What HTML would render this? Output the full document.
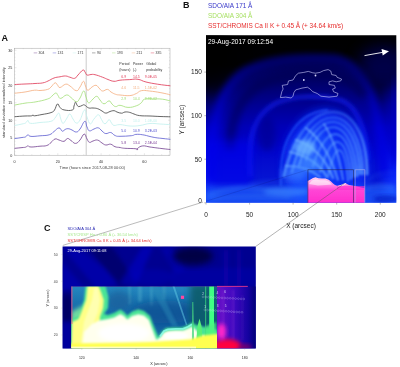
<!DOCTYPE html>
<html><head><meta charset="utf-8"><title>Figure</title>
<style>
html,body{margin:0;padding:0;background:#fff;}
body{width:400px;height:367px;overflow:hidden;font-family:"Liberation Sans",sans-serif;}
svg{display:block;}
text{font-family:"Liberation Sans",sans-serif;}
</style></head><body>
<svg width="400" height="367" viewBox="0 0 400 367">
<defs>
<filter id="b05" x="-20%" y="-20%" width="140%" height="140%"><feGaussianBlur stdDeviation="0.5"/></filter>
<filter id="b1" x="-20%" y="-20%" width="140%" height="140%"><feGaussianBlur stdDeviation="1"/></filter>
<filter id="b2" x="-30%" y="-30%" width="160%" height="160%"><feGaussianBlur stdDeviation="2"/></filter>
<filter id="b3" x="-30%" y="-30%" width="160%" height="160%"><feGaussianBlur stdDeviation="3"/></filter>
<filter id="b5" x="-40%" y="-40%" width="180%" height="180%"><feGaussianBlur stdDeviation="5"/></filter>
<filter id="b8" x="-50%" y="-50%" width="200%" height="200%"><feGaussianBlur stdDeviation="8"/></filter>
<clipPath id="clipB"><rect x="206" y="35.3" width="190.3" height="167.5"/></clipPath>
<clipPath id="clipC"><rect x="62.6" y="246.6" width="193.2" height="102"/></clipPath>
<clipPath id="clipCi"><rect x="71.3" y="286.4" width="145.8" height="62.2"/></clipPath>
<clipPath id="clipCr"><rect x="217.1" y="286.4" width="38.7" height="62.2"/></clipPath>
<linearGradient id="gB" x1="0" y1="35" x2="0" y2="203" gradientUnits="userSpaceOnUse">
 <stop offset="0" stop-color="#000000"/>
 <stop offset="0.18" stop-color="#000004"/>
 <stop offset="0.30" stop-color="#000030"/>
 <stop offset="0.42" stop-color="#000078"/>
 <stop offset="0.55" stop-color="#0000c0"/>
 <stop offset="0.7" stop-color="#040ce8"/>
 <stop offset="0.85" stop-color="#0c28f6"/>
 <stop offset="1" stop-color="#1848ff"/>
</linearGradient>
<linearGradient id="gCi" x1="0" y1="286" x2="0" y2="349" gradientUnits="userSpaceOnUse">
 <stop offset="0" stop-color="#2488c0"/>
 <stop offset="0.25" stop-color="#1a74b0"/>
 <stop offset="0.6" stop-color="#125ca0"/>
 <stop offset="1" stop-color="#1c80a8"/>
</linearGradient>
<linearGradient id="gCr" x1="217" y1="0" x2="256" y2="0" gradientUnits="userSpaceOnUse">
 <stop offset="0" stop-color="#6a10c8"/>
 <stop offset="0.45" stop-color="#3c08c0"/>
 <stop offset="0.8" stop-color="#1402a0"/>
 <stop offset="1" stop-color="#000078"/>
</linearGradient>
</defs>
<rect width="400" height="367" fill="#fff"/>

<g id="panelA">
<text x="1.5" y="41" font-size="9" font-weight="bold" fill="#111">A</text>
<rect x="14.5" y="48.2" width="155.5" height="107" fill="none" stroke="#9a9a9a" stroke-width="0.45"/>
<line x1="86.2" y1="48.2" x2="86.2" y2="155.2" stroke="#a8a8a8" stroke-width="0.6"/>
<line x1="14.5" y1="155.20" x2="16.5" y2="155.20" stroke="#b0b0b0" stroke-width="0.3"/>
<line x1="170" y1="155.20" x2="168.0" y2="155.20" stroke="#b0b0b0" stroke-width="0.3"/>
<line x1="14.5" y1="151.70" x2="15.5" y2="151.70" stroke="#b0b0b0" stroke-width="0.3"/>
<line x1="170" y1="151.70" x2="169.0" y2="151.70" stroke="#b0b0b0" stroke-width="0.3"/>
<line x1="14.5" y1="148.20" x2="15.5" y2="148.20" stroke="#b0b0b0" stroke-width="0.3"/>
<line x1="170" y1="148.20" x2="169.0" y2="148.20" stroke="#b0b0b0" stroke-width="0.3"/>
<line x1="14.5" y1="144.70" x2="15.5" y2="144.70" stroke="#b0b0b0" stroke-width="0.3"/>
<line x1="170" y1="144.70" x2="169.0" y2="144.70" stroke="#b0b0b0" stroke-width="0.3"/>
<line x1="14.5" y1="141.20" x2="15.5" y2="141.20" stroke="#b0b0b0" stroke-width="0.3"/>
<line x1="170" y1="141.20" x2="169.0" y2="141.20" stroke="#b0b0b0" stroke-width="0.3"/>
<line x1="14.5" y1="137.70" x2="16.5" y2="137.70" stroke="#b0b0b0" stroke-width="0.3"/>
<line x1="170" y1="137.70" x2="168.0" y2="137.70" stroke="#b0b0b0" stroke-width="0.3"/>
<line x1="14.5" y1="134.20" x2="15.5" y2="134.20" stroke="#b0b0b0" stroke-width="0.3"/>
<line x1="170" y1="134.20" x2="169.0" y2="134.20" stroke="#b0b0b0" stroke-width="0.3"/>
<line x1="14.5" y1="130.70" x2="15.5" y2="130.70" stroke="#b0b0b0" stroke-width="0.3"/>
<line x1="170" y1="130.70" x2="169.0" y2="130.70" stroke="#b0b0b0" stroke-width="0.3"/>
<line x1="14.5" y1="127.20" x2="15.5" y2="127.20" stroke="#b0b0b0" stroke-width="0.3"/>
<line x1="170" y1="127.20" x2="169.0" y2="127.20" stroke="#b0b0b0" stroke-width="0.3"/>
<line x1="14.5" y1="123.70" x2="15.5" y2="123.70" stroke="#b0b0b0" stroke-width="0.3"/>
<line x1="170" y1="123.70" x2="169.0" y2="123.70" stroke="#b0b0b0" stroke-width="0.3"/>
<line x1="14.5" y1="120.20" x2="16.5" y2="120.20" stroke="#b0b0b0" stroke-width="0.3"/>
<line x1="170" y1="120.20" x2="168.0" y2="120.20" stroke="#b0b0b0" stroke-width="0.3"/>
<line x1="14.5" y1="116.70" x2="15.5" y2="116.70" stroke="#b0b0b0" stroke-width="0.3"/>
<line x1="170" y1="116.70" x2="169.0" y2="116.70" stroke="#b0b0b0" stroke-width="0.3"/>
<line x1="14.5" y1="113.20" x2="15.5" y2="113.20" stroke="#b0b0b0" stroke-width="0.3"/>
<line x1="170" y1="113.20" x2="169.0" y2="113.20" stroke="#b0b0b0" stroke-width="0.3"/>
<line x1="14.5" y1="109.70" x2="15.5" y2="109.70" stroke="#b0b0b0" stroke-width="0.3"/>
<line x1="170" y1="109.70" x2="169.0" y2="109.70" stroke="#b0b0b0" stroke-width="0.3"/>
<line x1="14.5" y1="106.20" x2="15.5" y2="106.20" stroke="#b0b0b0" stroke-width="0.3"/>
<line x1="170" y1="106.20" x2="169.0" y2="106.20" stroke="#b0b0b0" stroke-width="0.3"/>
<line x1="14.5" y1="102.70" x2="16.5" y2="102.70" stroke="#b0b0b0" stroke-width="0.3"/>
<line x1="170" y1="102.70" x2="168.0" y2="102.70" stroke="#b0b0b0" stroke-width="0.3"/>
<line x1="14.5" y1="99.20" x2="15.5" y2="99.20" stroke="#b0b0b0" stroke-width="0.3"/>
<line x1="170" y1="99.20" x2="169.0" y2="99.20" stroke="#b0b0b0" stroke-width="0.3"/>
<line x1="14.5" y1="95.70" x2="15.5" y2="95.70" stroke="#b0b0b0" stroke-width="0.3"/>
<line x1="170" y1="95.70" x2="169.0" y2="95.70" stroke="#b0b0b0" stroke-width="0.3"/>
<line x1="14.5" y1="92.20" x2="15.5" y2="92.20" stroke="#b0b0b0" stroke-width="0.3"/>
<line x1="170" y1="92.20" x2="169.0" y2="92.20" stroke="#b0b0b0" stroke-width="0.3"/>
<line x1="14.5" y1="88.70" x2="15.5" y2="88.70" stroke="#b0b0b0" stroke-width="0.3"/>
<line x1="170" y1="88.70" x2="169.0" y2="88.70" stroke="#b0b0b0" stroke-width="0.3"/>
<line x1="14.5" y1="85.20" x2="16.5" y2="85.20" stroke="#b0b0b0" stroke-width="0.3"/>
<line x1="170" y1="85.20" x2="168.0" y2="85.20" stroke="#b0b0b0" stroke-width="0.3"/>
<line x1="14.5" y1="81.70" x2="15.5" y2="81.70" stroke="#b0b0b0" stroke-width="0.3"/>
<line x1="170" y1="81.70" x2="169.0" y2="81.70" stroke="#b0b0b0" stroke-width="0.3"/>
<line x1="14.5" y1="78.20" x2="15.5" y2="78.20" stroke="#b0b0b0" stroke-width="0.3"/>
<line x1="170" y1="78.20" x2="169.0" y2="78.20" stroke="#b0b0b0" stroke-width="0.3"/>
<line x1="14.5" y1="74.70" x2="15.5" y2="74.70" stroke="#b0b0b0" stroke-width="0.3"/>
<line x1="170" y1="74.70" x2="169.0" y2="74.70" stroke="#b0b0b0" stroke-width="0.3"/>
<line x1="14.5" y1="71.20" x2="15.5" y2="71.20" stroke="#b0b0b0" stroke-width="0.3"/>
<line x1="170" y1="71.20" x2="169.0" y2="71.20" stroke="#b0b0b0" stroke-width="0.3"/>
<line x1="14.5" y1="67.70" x2="16.5" y2="67.70" stroke="#b0b0b0" stroke-width="0.3"/>
<line x1="170" y1="67.70" x2="168.0" y2="67.70" stroke="#b0b0b0" stroke-width="0.3"/>
<line x1="14.5" y1="64.20" x2="15.5" y2="64.20" stroke="#b0b0b0" stroke-width="0.3"/>
<line x1="170" y1="64.20" x2="169.0" y2="64.20" stroke="#b0b0b0" stroke-width="0.3"/>
<line x1="14.5" y1="60.70" x2="15.5" y2="60.70" stroke="#b0b0b0" stroke-width="0.3"/>
<line x1="170" y1="60.70" x2="169.0" y2="60.70" stroke="#b0b0b0" stroke-width="0.3"/>
<line x1="14.5" y1="57.20" x2="15.5" y2="57.20" stroke="#b0b0b0" stroke-width="0.3"/>
<line x1="170" y1="57.20" x2="169.0" y2="57.20" stroke="#b0b0b0" stroke-width="0.3"/>
<line x1="14.5" y1="53.70" x2="15.5" y2="53.70" stroke="#b0b0b0" stroke-width="0.3"/>
<line x1="170" y1="53.70" x2="169.0" y2="53.70" stroke="#b0b0b0" stroke-width="0.3"/>
<line x1="14.5" y1="50.20" x2="16.5" y2="50.20" stroke="#b0b0b0" stroke-width="0.3"/>
<line x1="170" y1="50.20" x2="168.0" y2="50.20" stroke="#b0b0b0" stroke-width="0.3"/>
<text x="12.3" y="156.5" font-size="3.7" text-anchor="end" fill="#2a2a2a">0</text>
<text x="12.3" y="139.0" font-size="3.7" text-anchor="end" fill="#2a2a2a">5</text>
<text x="12.3" y="121.5" font-size="3.7" text-anchor="end" fill="#2a2a2a">10</text>
<text x="12.3" y="104.0" font-size="3.7" text-anchor="end" fill="#2a2a2a">15</text>
<text x="12.3" y="86.5" font-size="3.7" text-anchor="end" fill="#2a2a2a">20</text>
<text x="12.3" y="69.0" font-size="3.7" text-anchor="end" fill="#2a2a2a">25</text>
<text x="12.3" y="51.5" font-size="3.7" text-anchor="end" fill="#2a2a2a">30</text>
<line x1="14.50" y1="155.2" x2="14.50" y2="153.2" stroke="#b0b0b0" stroke-width="0.3"/>
<line x1="14.50" y1="48.2" x2="14.50" y2="50.2" stroke="#b0b0b0" stroke-width="0.3"/>
<line x1="23.16" y1="155.2" x2="23.16" y2="154.2" stroke="#b0b0b0" stroke-width="0.3"/>
<line x1="23.16" y1="48.2" x2="23.16" y2="49.2" stroke="#b0b0b0" stroke-width="0.3"/>
<line x1="31.82" y1="155.2" x2="31.82" y2="154.2" stroke="#b0b0b0" stroke-width="0.3"/>
<line x1="31.82" y1="48.2" x2="31.82" y2="49.2" stroke="#b0b0b0" stroke-width="0.3"/>
<line x1="40.48" y1="155.2" x2="40.48" y2="154.2" stroke="#b0b0b0" stroke-width="0.3"/>
<line x1="40.48" y1="48.2" x2="40.48" y2="49.2" stroke="#b0b0b0" stroke-width="0.3"/>
<line x1="49.14" y1="155.2" x2="49.14" y2="154.2" stroke="#b0b0b0" stroke-width="0.3"/>
<line x1="49.14" y1="48.2" x2="49.14" y2="49.2" stroke="#b0b0b0" stroke-width="0.3"/>
<line x1="57.80" y1="155.2" x2="57.80" y2="153.2" stroke="#b0b0b0" stroke-width="0.3"/>
<line x1="57.80" y1="48.2" x2="57.80" y2="50.2" stroke="#b0b0b0" stroke-width="0.3"/>
<line x1="66.46" y1="155.2" x2="66.46" y2="154.2" stroke="#b0b0b0" stroke-width="0.3"/>
<line x1="66.46" y1="48.2" x2="66.46" y2="49.2" stroke="#b0b0b0" stroke-width="0.3"/>
<line x1="75.12" y1="155.2" x2="75.12" y2="154.2" stroke="#b0b0b0" stroke-width="0.3"/>
<line x1="75.12" y1="48.2" x2="75.12" y2="49.2" stroke="#b0b0b0" stroke-width="0.3"/>
<line x1="83.78" y1="155.2" x2="83.78" y2="154.2" stroke="#b0b0b0" stroke-width="0.3"/>
<line x1="83.78" y1="48.2" x2="83.78" y2="49.2" stroke="#b0b0b0" stroke-width="0.3"/>
<line x1="92.44" y1="155.2" x2="92.44" y2="154.2" stroke="#b0b0b0" stroke-width="0.3"/>
<line x1="92.44" y1="48.2" x2="92.44" y2="49.2" stroke="#b0b0b0" stroke-width="0.3"/>
<line x1="101.10" y1="155.2" x2="101.10" y2="153.2" stroke="#b0b0b0" stroke-width="0.3"/>
<line x1="101.10" y1="48.2" x2="101.10" y2="50.2" stroke="#b0b0b0" stroke-width="0.3"/>
<line x1="109.76" y1="155.2" x2="109.76" y2="154.2" stroke="#b0b0b0" stroke-width="0.3"/>
<line x1="109.76" y1="48.2" x2="109.76" y2="49.2" stroke="#b0b0b0" stroke-width="0.3"/>
<line x1="118.42" y1="155.2" x2="118.42" y2="154.2" stroke="#b0b0b0" stroke-width="0.3"/>
<line x1="118.42" y1="48.2" x2="118.42" y2="49.2" stroke="#b0b0b0" stroke-width="0.3"/>
<line x1="127.08" y1="155.2" x2="127.08" y2="154.2" stroke="#b0b0b0" stroke-width="0.3"/>
<line x1="127.08" y1="48.2" x2="127.08" y2="49.2" stroke="#b0b0b0" stroke-width="0.3"/>
<line x1="135.74" y1="155.2" x2="135.74" y2="154.2" stroke="#b0b0b0" stroke-width="0.3"/>
<line x1="135.74" y1="48.2" x2="135.74" y2="49.2" stroke="#b0b0b0" stroke-width="0.3"/>
<line x1="144.40" y1="155.2" x2="144.40" y2="153.2" stroke="#b0b0b0" stroke-width="0.3"/>
<line x1="144.40" y1="48.2" x2="144.40" y2="50.2" stroke="#b0b0b0" stroke-width="0.3"/>
<line x1="153.06" y1="155.2" x2="153.06" y2="154.2" stroke="#b0b0b0" stroke-width="0.3"/>
<line x1="153.06" y1="48.2" x2="153.06" y2="49.2" stroke="#b0b0b0" stroke-width="0.3"/>
<line x1="161.72" y1="155.2" x2="161.72" y2="154.2" stroke="#b0b0b0" stroke-width="0.3"/>
<line x1="161.72" y1="48.2" x2="161.72" y2="49.2" stroke="#b0b0b0" stroke-width="0.3"/>
<text x="14.5" y="162.8" font-size="3.7" text-anchor="middle" fill="#2a2a2a">0</text>
<text x="57.8" y="162.8" font-size="3.7" text-anchor="middle" fill="#2a2a2a">20</text>
<text x="101.1" y="162.8" font-size="3.7" text-anchor="middle" fill="#2a2a2a">40</text>
<text x="144.4" y="162.8" font-size="3.7" text-anchor="middle" fill="#2a2a2a">60</text>
<text x="92.3" y="169.4" font-size="4" text-anchor="middle" fill="#444">Time (hours since 2017-08-28 00:00)</text>
<text transform="translate(4.5,102.7) rotate(-90)" font-size="4.1" text-anchor="middle" fill="#3a3a3a">standard deviation normalized intensity</text>
<path d="M15.0,84.5 C17.3,84.4 20.3,84.2 25.0,84.0 C29.7,83.8 30.9,83.8 35.0,83.5 C39.1,83.2 39.7,83.5 42.7,82.9 C45.7,82.3 45.4,82.1 48.0,81.0 C50.6,79.9 51.2,79.0 54.0,78.0 C56.8,77.0 57.3,77.3 60.0,76.8 C62.7,76.3 63.3,75.9 65.6,76.0 C67.9,76.1 67.7,76.7 69.8,77.2 C71.9,77.7 72.8,78.8 74.7,78.3 C76.6,77.8 76.1,76.9 78.0,75.0 C79.9,73.1 81.3,70.8 82.9,70.1 C84.5,69.4 84.0,70.9 85.0,72.0 C86.0,73.1 85.6,74.4 87.0,75.0 C88.4,75.6 89.1,74.6 91.0,74.5 C92.9,74.4 92.3,74.1 95.0,74.7 C97.7,75.3 99.5,76.1 102.5,77.2 C105.5,78.3 105.3,78.5 108.0,79.5 C110.7,80.5 111.2,81.1 114.0,81.3 C116.8,81.5 116.3,80.6 120.0,80.2 C123.7,79.8 125.6,79.8 129.8,79.6 C134.0,79.4 134.2,78.7 138.0,79.3 C141.8,79.9 141.4,80.9 146.0,82.0 C150.6,83.1 152.0,83.3 157.6,84.2 C163.2,85.1 167.1,85.4 170.0,85.8" fill="none" stroke="#e0405c" stroke-width="0.85" stroke-linejoin="round" stroke-linecap="round"/>
<path d="M15.0,93.2 C17.3,92.9 20.4,92.7 25.0,92.0 C29.6,91.3 31.0,90.5 34.5,90.2 C38.0,89.9 36.9,90.7 40.0,90.5 C43.1,90.3 45.0,90.2 47.6,89.4 C50.2,88.6 49.3,88.5 51.0,87.0 C52.7,85.5 53.5,83.4 55.0,82.9 C56.5,82.4 56.3,83.9 57.5,85.0 C58.7,86.1 58.1,87.7 60.0,87.5 C61.9,87.3 63.4,84.5 65.7,84.2 C68.0,83.9 67.5,84.5 70.0,86.0 C72.5,87.5 74.0,90.5 76.3,90.7 C78.6,90.9 78.3,89.2 80.0,87.0 C81.7,84.8 82.1,81.5 83.4,81.3 C84.7,81.1 84.5,83.9 85.5,86.0 C86.5,88.1 86.3,90.0 87.8,90.2 C89.3,90.4 90.1,88.1 92.0,87.0 C93.9,85.9 94.4,85.1 96.0,85.3 C97.6,85.5 97.5,86.7 99.0,88.0 C100.5,89.3 100.5,90.7 102.5,91.0 C104.5,91.3 105.4,89.2 107.4,89.4 C109.4,89.6 109.1,90.9 111.0,92.0 C112.9,93.1 113.5,93.6 115.6,94.3 C117.7,95.0 116.7,94.7 120.0,95.0 C123.3,95.3 126.0,95.9 129.8,95.6 C133.6,95.2 133.6,94.6 136.3,93.5 C139.0,92.4 138.2,91.3 141.3,90.7 C144.4,90.1 144.8,90.5 149.4,91.0 C154.0,91.5 156.1,91.8 160.9,92.7 C165.7,93.6 167.9,94.2 170.0,94.7" fill="none" stroke="#f4b184" stroke-width="0.85" stroke-linejoin="round" stroke-linecap="round"/>
<path d="M15.0,105.0 C17.6,104.5 21.3,103.7 26.0,103.0 C30.7,102.3 30.0,102.9 35.0,102.0 C40.0,101.1 43.6,100.4 47.6,99.0 C51.6,97.6 50.1,97.4 52.0,96.0 C53.9,94.6 54.4,93.1 55.8,93.0 C57.2,92.9 56.9,94.2 58.0,95.5 C59.1,96.8 58.7,98.5 60.7,98.4 C62.7,98.3 64.1,95.2 66.5,95.0 C68.9,94.8 68.7,95.9 71.0,97.5 C73.3,99.1 74.2,101.6 76.3,101.7 C78.4,101.8 78.3,100.5 80.0,98.0 C81.7,95.5 82.3,91.2 83.7,91.0 C85.1,90.8 84.9,94.2 86.0,97.0 C87.1,99.8 87.0,102.3 88.6,102.8 C90.2,103.3 91.1,100.5 93.0,99.0 C94.9,97.5 95.2,96.1 96.8,96.3 C98.4,96.5 98.3,98.2 100.0,100.0 C101.7,101.8 101.9,103.6 104.0,103.8 C106.1,104.0 107.1,100.9 109.0,100.9 C110.9,100.9 110.5,102.7 112.0,104.0 C113.5,105.3 113.7,106.3 115.6,106.6 C117.5,106.9 117.1,105.1 120.0,105.3 C122.9,105.5 124.2,107.3 128.0,107.4 C131.8,107.5 133.2,106.9 136.3,105.8 C139.4,104.7 139.4,104.3 141.3,102.8 C143.2,101.3 141.8,100.1 144.5,99.2 C147.2,98.3 148.5,98.9 152.7,98.9 C156.9,98.9 158.5,98.7 162.5,99.2 C166.5,99.7 168.2,100.5 170.0,100.9" fill="none" stroke="#a6e07e" stroke-width="0.85" stroke-linejoin="round" stroke-linecap="round"/>
<path d="M15.0,116.7 C17.3,116.5 21.1,116.2 25.0,116.0 C28.9,115.8 29.6,116.1 31.5,115.8 C33.4,115.5 32.3,114.8 33.0,114.8 C33.7,114.8 32.4,115.9 34.5,115.8 C36.6,115.7 38.1,115.2 42.0,114.5 C45.9,113.8 48.1,113.6 51.0,112.6 C53.9,111.5 53.0,112.0 54.5,110.0 C56.0,108.0 56.1,104.6 57.4,104.0 C58.7,103.4 58.5,106.0 60.0,107.4 C61.5,108.8 61.1,109.3 64.0,109.9 C66.9,110.5 70.0,110.9 72.3,110.0 C74.6,109.1 73.3,107.8 74.0,106.0 C74.7,104.2 74.8,102.4 75.5,102.2 C76.2,102.0 76.2,104.0 77.0,105.0 C77.8,106.0 77.6,106.5 78.8,106.6 C80.0,106.7 80.7,105.9 82.0,105.5 C83.3,105.1 83.0,104.4 84.5,105.0 C86.0,105.6 86.6,107.2 88.6,107.9 C90.6,108.6 90.9,107.8 93.0,108.0 C95.1,108.2 95.5,108.0 97.6,108.7 C99.7,109.4 100.1,110.0 102.0,111.0 C103.9,112.0 103.9,113.0 105.8,113.1 C107.7,113.2 108.1,112.1 110.0,111.5 C111.9,110.9 112.4,110.6 114.0,110.7 C115.6,110.8 115.2,111.4 117.0,112.0 C118.8,112.6 119.6,113.2 121.5,113.2 C123.4,113.2 123.1,112.2 125.0,112.0 C126.9,111.8 127.6,111.9 129.7,112.4 C131.8,112.9 131.7,113.3 134.0,114.0 C136.3,114.7 135.8,115.1 139.5,115.6 C143.2,116.1 145.2,115.8 150.0,116.0 C154.8,116.2 155.3,116.3 160.0,116.5 C164.7,116.7 167.7,116.7 170.0,116.8" fill="none" stroke="#4a4a4a" stroke-width="0.85" stroke-linejoin="round" stroke-linecap="round"/>
<path d="M15.0,125.4 C16.6,125.1 19.6,124.6 22.0,124.0 C24.4,123.4 24.1,123.8 25.5,123.0 C26.9,122.2 26.9,120.4 28.0,120.5 C29.1,120.6 27.6,122.8 30.4,123.3 C33.2,123.8 35.2,123.0 40.0,122.5 C44.8,122.0 47.4,122.3 50.9,121.3 C54.4,120.2 53.2,119.9 55.0,118.0 C56.8,116.1 57.4,113.2 58.7,113.2 C60.0,113.2 59.7,115.8 60.5,118.0 C61.3,120.2 61.5,121.6 62.3,122.7 C63.1,123.8 62.9,123.8 64.0,122.7 C65.1,121.6 65.6,120.0 67.0,118.0 C68.4,116.0 68.4,113.8 69.8,114.0 C71.2,114.2 71.5,116.9 73.0,119.0 C74.5,121.1 74.7,122.8 76.3,123.0 C77.9,123.2 78.1,123.0 80.0,120.0 C81.9,117.0 82.9,110.7 84.5,110.0 C86.1,109.3 85.7,113.8 87.0,117.0 C88.3,120.2 88.6,123.3 90.2,123.8 C91.8,124.3 92.1,121.1 94.0,119.0 C95.9,116.9 96.7,114.7 98.4,114.8 C100.2,114.9 100.0,117.4 101.5,119.5 C103.0,121.6 103.2,123.8 105.0,123.8 C106.8,123.8 107.5,119.9 109.0,119.7 C110.5,119.5 110.3,121.7 111.5,123.0 C112.7,124.3 112.0,125.0 114.0,125.4 C116.0,125.8 116.3,124.5 120.0,124.6 C123.7,124.7 125.3,125.8 130.0,126.0 C134.7,126.2 135.3,126.1 140.0,125.5 C144.7,124.9 145.3,123.8 150.0,123.5 C154.7,123.2 155.3,123.7 160.0,124.0 C164.7,124.3 167.7,124.5 170.0,124.6" fill="none" stroke="#c4f1ee" stroke-width="0.85" stroke-linejoin="round" stroke-linecap="round"/>
<path d="M15.0,138.5 C16.6,138.3 19.6,137.9 22.0,137.5 C24.4,137.1 24.1,137.5 25.5,136.9 C26.9,136.3 26.7,134.9 28.0,134.8 C29.3,134.7 28.2,136.2 31.0,136.4 C33.8,136.6 35.8,136.2 40.0,135.8 C44.2,135.4 45.9,135.8 49.2,134.8 C52.5,133.8 51.7,133.1 54.0,131.5 C56.3,129.9 57.1,128.0 59.0,127.9 C60.9,127.8 60.9,130.8 62.3,131.2 C63.7,131.6 63.6,130.1 65.0,129.5 C66.4,128.9 66.6,128.6 68.2,128.7 C69.8,128.8 70.1,129.2 72.0,130.0 C73.9,130.8 74.4,132.2 76.3,132.0 C78.2,131.8 78.0,131.5 80.0,129.0 C82.0,126.5 83.2,121.8 84.8,121.3 C86.4,120.8 85.9,124.8 87.0,127.0 C88.1,129.2 87.8,130.3 89.4,130.8 C91.0,131.3 91.9,129.7 94.0,129.0 C96.1,128.3 96.5,127.4 98.4,127.9 C100.3,128.4 100.3,129.7 102.0,131.0 C103.7,132.3 103.8,133.2 105.8,133.6 C107.8,133.9 108.6,132.1 110.7,132.5 C112.8,132.9 112.8,134.6 115.0,135.5 C117.2,136.4 116.2,136.3 120.0,136.3 C123.8,136.3 127.6,136.1 131.3,135.7 C135.0,135.3 133.3,134.6 136.0,134.4 C138.7,134.2 139.5,134.3 142.8,134.8 C146.1,135.3 146.9,135.8 150.0,136.5 C153.1,137.2 152.9,137.2 155.9,137.7 C158.9,138.2 159.7,138.1 163.0,138.5 C166.3,138.9 168.4,139.1 170.0,139.3" fill="none" stroke="#6464d2" stroke-width="0.85" stroke-linejoin="round" stroke-linecap="round"/>
<path d="M15.0,148.3 C16.6,148.1 19.6,147.9 22.0,147.6 C24.4,147.3 24.1,147.6 25.5,147.2 C26.9,146.8 26.7,145.9 28.0,145.9 C29.3,145.9 28.2,146.9 31.0,147.0 C33.8,147.1 36.3,146.5 40.0,146.2 C43.7,145.8 44.2,146.4 46.8,145.5 C49.4,144.6 49.1,144.0 51.0,142.5 C52.9,141.0 53.1,139.6 55.0,139.0 C56.9,138.4 56.9,139.5 59.0,140.0 C61.1,140.5 62.0,141.7 64.0,141.3 C66.0,141.0 65.8,138.7 67.4,138.5 C69.0,138.3 69.1,139.4 71.0,140.5 C72.9,141.6 73.4,143.5 75.5,143.4 C77.6,143.3 78.0,142.2 80.0,140.0 C82.0,137.8 82.6,134.3 84.2,134.1 C85.8,133.9 85.8,137.1 87.0,139.0 C88.2,140.9 88.0,141.8 89.4,142.3 C90.8,142.8 91.1,141.5 93.0,141.0 C94.9,140.5 95.5,139.6 97.6,140.1 C99.7,140.6 100.1,141.9 102.0,143.0 C103.9,144.1 103.8,144.7 105.8,145.0 C107.8,145.3 108.6,143.8 110.7,144.2 C112.8,144.6 112.8,145.9 115.0,146.7 C117.2,147.5 117.7,147.1 120.0,147.5 C122.3,147.9 121.0,148.0 124.8,148.3 C128.6,148.6 133.5,148.4 136.3,148.8 C139.1,149.2 136.7,150.1 137.0,150.0 C137.3,149.9 136.4,149.2 137.8,148.2 C139.2,147.2 140.0,146.2 142.8,145.9 C145.6,145.6 146.9,146.6 150.0,147.0 C153.1,147.4 152.9,147.4 155.9,147.8 C158.9,148.2 159.7,148.3 163.0,148.7 C166.3,149.1 168.4,149.3 170.0,149.5" fill="none" stroke="#7a4a96" stroke-width="0.85" stroke-linejoin="round" stroke-linecap="round"/>
<line x1="33.7" y1="52.9" x2="37.2" y2="52.9" stroke="#7a4a96" stroke-width="0.45"/>
<text x="38.6" y="53.9" font-size="3.5" fill="#383838">304</text>
<line x1="52.7" y1="52.9" x2="56.2" y2="52.9" stroke="#6464d2" stroke-width="0.45"/>
<text x="57.6" y="53.9" font-size="3.5" fill="#383838">131</text>
<line x1="72.7" y1="52.9" x2="76.2" y2="52.9" stroke="#c4f1ee" stroke-width="0.45"/>
<text x="77.6" y="53.9" font-size="3.5" fill="#383838">171</text>
<line x1="92.0" y1="52.9" x2="95.5" y2="52.9" stroke="#4a4a4a" stroke-width="0.45"/>
<text x="96.89999999999999" y="53.9" font-size="3.5" fill="#383838">94</text>
<line x1="112.0" y1="52.9" x2="115.5" y2="52.9" stroke="#a6e07e" stroke-width="0.45"/>
<text x="116.89999999999999" y="53.9" font-size="3.5" fill="#383838">193</text>
<line x1="131.7" y1="52.9" x2="135.2" y2="52.9" stroke="#f4b184" stroke-width="0.45"/>
<text x="136.6" y="53.9" font-size="3.5" fill="#383838">211</text>
<line x1="150.7" y1="52.9" x2="154.2" y2="52.9" stroke="#e0405c" stroke-width="0.45"/>
<text x="155.6" y="53.9" font-size="3.5" fill="#383838">335</text>
<text x="119.3" y="64.8" font-size="3.5" fill="#333">Period</text><text x="133" y="64.8" font-size="3.5" fill="#333">Power</text><text x="146.2" y="64.8" font-size="3.5" fill="#333">Global</text>
<text x="119.3" y="71.3" font-size="3.5" fill="#333">(hours)</text><text x="133" y="71.3" font-size="3.5" fill="#333">(-)</text><text x="146.2" y="71.3" font-size="3.5" fill="#333">probability</text>
<text x="121.3" y="77.5" font-size="3.5" fill="#e0405c">6.9</text><text x="133" y="77.5" font-size="3.5" fill="#e0405c">14.5</text><text x="144.8" y="77.5" font-size="3.5" fill="#e0405c">9.0E-05</text>
<text x="121.3" y="89" font-size="3.5" fill="#f4b184">4.6</text><text x="133" y="89" font-size="3.5" fill="#f4b184">11.5</text><text x="144.8" y="89" font-size="3.5" fill="#f4b184">1.5E-02</text>
<text x="121.3" y="99.6" font-size="3.5" fill="#a6e07e">2.9</text><text x="133" y="99.6" font-size="3.5" fill="#a6e07e">10.4</text><text x="144.8" y="99.6" font-size="3.5" fill="#a6e07e">9.9E-02</text>
<text x="121.3" y="121.7" font-size="3.5" fill="#c4f1ee">3.5</text><text x="133" y="121.7" font-size="3.5" fill="#c4f1ee">10.0</text><text x="144.8" y="121.7" font-size="3.5" fill="#c4f1ee">1.0E-00</text>
<text x="121.3" y="132.4" font-size="3.5" fill="#5050d0">5.0</text><text x="133" y="132.4" font-size="3.5" fill="#5050d0">10.9</text><text x="144.8" y="132.4" font-size="3.5" fill="#5050d0">3.2E-03</text>
<text x="121.3" y="143.8" font-size="3.5" fill="#7a3a96">5.8</text><text x="133" y="143.8" font-size="3.5" fill="#7a3a96">13.4</text><text x="144.8" y="143.8" font-size="3.5" fill="#7a3a96">2.5E-04</text>
</g>
<g id="panelB">
<text x="183" y="7.8" font-size="9" font-weight="bold" fill="#111">B</text>
<text x="208" y="8" font-size="6.45" fill="#3636c8">SDO/AIA 171 Å</text>
<text x="208" y="17.8" font-size="6.45" fill="#a8e064">SDO/AIA 304 Å</text>
<text x="208" y="27.5" font-size="6.45" fill="#e62c2c">SST/CHROMIS Ca II K + 0.45 Å (+ 34.64 km/s)</text>
<g clip-path="url(#clipB)">
<rect x="206" y="35" width="191" height="168" fill="url(#gB)"/>
<!-- top darkening -->
<ellipse cx="206" cy="58" rx="30" ry="34" fill="#000" opacity="0.8" filter="url(#b8)"/>
<!-- right edge glow -->
<rect x="393" y="75" width="5" height="90" fill="#0404d0" opacity="0.5" filter="url(#b3)"/>
<ellipse cx="394" cy="120" rx="10" ry="40" fill="#0404c8" opacity="0.5" filter="url(#b5)"/>
<!-- dome fill (inside ring A) -->
<path d="M212,203 C208,120 222,86 246,71 C268,60 300,57 335,59 C362,64 380,95 385,203 Z" fill="#0000b0" opacity="0.5" filter="url(#b5)"/>
<!-- ring A -->
<linearGradient id="gRA" x1="0" y1="57" x2="0" y2="130" gradientUnits="userSpaceOnUse"><stop offset="0" stop-color="#000078"/><stop offset="0.5" stop-color="#0202b4"/><stop offset="1" stop-color="#0606e0"/></linearGradient>
<path d="M211,180 C209,120 222,86 246,71 C268,60 300,57 335,59 C362,64 380,95 384,175" fill="none" stroke="url(#gRA)" stroke-width="9" opacity="0.8" filter="url(#b3)"/>
<!-- dark gap inside ring A -->
<path d="M230,150 C230,118 240,99 258,86 C280,74 310,72 335,76 C350,80 358,86 364,96" fill="none" stroke="#000050" stroke-width="10" opacity="0.55" filter="url(#b3)"/>
<ellipse cx="384" cy="66" rx="26" ry="20" fill="#000058" opacity="0.8" filter="url(#b8)"/>
<!-- ring B -->
<path d="M250,176 C247,132 257,113 276,103 C296,95 320,95 340,100 C358,106 366,130 367,160" fill="none" stroke="#1424f4" stroke-width="3.5" opacity="0.85" filter="url(#b2)"/>
<!-- dark pocket -->
<ellipse cx="267" cy="134" rx="9" ry="17" fill="#000088" opacity="0.55" filter="url(#b3)"/>
<!-- left fill -->
<rect x="206" y="140" width="46" height="50" fill="#0404f0" opacity="0.6" filter="url(#b5)"/>
<!-- dome glow -->
<ellipse cx="326" cy="165" rx="42" ry="56" fill="#0c30ff" opacity="0.75" filter="url(#b5)"/>
<ellipse cx="314" cy="160" rx="26" ry="30" fill="#1c58ff" opacity="0.65" filter="url(#b5)"/>
<!-- left loop -->
<path d="M281,186 C278,136 300,112 328,110" fill="none" stroke="#2458ff" stroke-width="2.2" opacity="0.7" filter="url(#b1)"/>
<!-- arcade loops -->
<linearGradient id="gArc" x1="0" y1="105" x2="0" y2="175" gradientUnits="userSpaceOnUse"><stop offset="0" stop-color="#3a78ff" stop-opacity="0.45"/><stop offset="0.5" stop-color="#4a8cff" stop-opacity="0.85"/><stop offset="1" stop-color="#5a9cff" stop-opacity="1"/></linearGradient>
<g fill="none" stroke="url(#gArc)" filter="url(#b1)" stroke-linecap="round">
<path d="M367,174 C367,92 304,90 284,176" stroke-width="3" opacity="0.8"/>
<path d="M363,174 C361,100 310,98 292,172" stroke-width="2.6" opacity="0.8"/>
<path d="M360,174 C357,108 316,104 299,166" stroke-width="2.6" opacity="0.85"/>
<path d="M357,176 C353,116 322,112 306,160" stroke-width="2.4" opacity="0.85"/>
<path d="M354,177 C350,124 327,120 313,166" stroke-width="2.2" opacity="0.85"/>
<path d="M351,179 C347,134 332,128 320,172" stroke-width="2" opacity="0.8"/>
<path d="M348,181 C345,144 336,138 328,176" stroke-width="1.8" opacity="0.75"/>
</g>
<g fill="none" stroke="#70b0ff" filter="url(#b1)" stroke-linecap="round" opacity="0.75">
<path d="M338,180 C332,160 322,140 306,128" stroke-width="1.8"/>
<path d="M333,178 C326,160 314,146 296,140" stroke-width="2"/>
<path d="M327,177 C320,165 308,156 290,152" stroke-width="2"/>
<path d="M343,180 C340,160 334,140 324,124" stroke-width="1.6"/>
<path d="M320,177 C312,170 300,166 286,166" stroke-width="1.8"/>
</g>
<!-- bright patch -->
<ellipse cx="305" cy="148" rx="11" ry="8" fill="#6cb4ff" opacity="0.8" filter="url(#b2)"/>
<ellipse cx="310" cy="164" rx="12" ry="8" fill="#4c98ff" opacity="0.6" filter="url(#b3)"/>
<ellipse cx="294" cy="174" rx="12" ry="8" fill="#3c84ff" opacity="0.6" filter="url(#b3)"/>
<!-- bottom band -->
<rect x="206" y="186" width="191" height="18" fill="#2468ff" opacity="0.6" filter="url(#b3)"/>
<g fill="none" stroke="#4a94ff" stroke-linecap="round" filter="url(#b2)" opacity="0.7">
<path d="M208,196 C225,188 245,186 262,189 C280,192 296,193 307,190" stroke-width="2.6" opacity="0.6"/>
<path d="M214,199 C235,195 262,196 290,197" stroke-width="2" opacity="0.5"/>
<path d="M250,184 C265,181 285,181 304,184" stroke-width="2" opacity="0.4"/>
<path d="M366,189 C374,185 384,185 394,188" stroke-width="2.4" opacity="0.55"/>
<path d="M366,182 C372,176 380,172 392,172" stroke-width="2" opacity="0.3"/>
</g>
<ellipse cx="286" cy="192" rx="22" ry="5" fill="#3c88ff" opacity="0.5" filter="url(#b2)"/>
<ellipse cx="386" cy="199" rx="13" ry="3.5" fill="#0414c0" opacity="0.7" filter="url(#b2)"/>
<!-- contour -->
<polygon points="280.4,97.6 281.8,91.7 283.1,89.0 282.2,85.4 287.6,84.5 288.5,80.9 293.0,80.0 295.7,75.5 298.4,73.2 303.8,72.4 308.3,71.4 312.8,72.8 315.5,73.2 320.0,72.4 323.6,70.6 328.1,69.6 330.8,71.0 331.7,74.6 336.2,75.5 337.1,77.3 341.6,79.1 340.7,80.9 336.2,81.8 332.6,80.9 329.0,81.8 329.0,84.5 334.4,85.4 335.3,88.1 332.6,89.0 333.5,91.7 338.0,93.5 337.1,96.2 329.0,97.1 320.9,96.2 317.3,93.5 312.8,91.7 310.1,89.0 307.4,87.2 302.0,88.1 295.7,89.9 293.9,92.6 293.0,96.2 291.2,98.0 285.8,97.1" fill="none" stroke="#d0d0ff" stroke-width="0.6" stroke-linejoin="round"/>
<circle cx="303.8" cy="80.0" r="0.9" fill="#d8d8ff"/><circle cx="315.5" cy="75.5" r="0.9" fill="#d8d8ff"/>
<!-- pink region -->
<linearGradient id="gP" x1="0" y1="177" x2="0" y2="203" gradientUnits="userSpaceOnUse">
<stop offset="0" stop-color="#ffd2f4"/><stop offset="0.22" stop-color="#ffa0e4"/><stop offset="0.5" stop-color="#ff46d6"/><stop offset="1" stop-color="#ff30cc"/>
</linearGradient>
<path d="M307.7,204 L307.7,181 L310.5,179.6 L313,178 L315.5,177.3 L318.5,178.2 L322,178.6 L325.5,178.4 L328.7,179.8 L331,181.5 L333,183.4 L335,185 L337,185.8 L340,185.3 L343,184 L345.3,183 L347,184 L349,185 L353.5,185.8 L357,186.6 L361,187.6 L364.7,188.3 L364.7,204 Z" fill="url(#gP)" filter="url(#b05)"/>
<path d="M309,184 L312,180.5 L316,179.3 L320,180.3 L325,180.2 L329,181.5 L332,184.5 L326,185 L318,185.6 Z" fill="#fff" opacity="0.55" filter="url(#b05)"/>
<path d="M337,186.2 L341,185.2 L344.5,183.4 L346.6,183.6 L343,185.6 L338.5,187 Z" fill="#fff" opacity="0.9" filter="url(#b05)"/>
<rect x="337" y="186" width="28" height="4" fill="#ff28cc" opacity="0.6" filter="url(#b05)"/>
<!-- boxes -->
<path d="M307.9,202.8 L307.9,169.7 L353.5,169.7 L353.5,202.8" fill="none" stroke="#202050" stroke-width="0.55"/>
<path d="M355.2,202.8 L355.2,169.7 L364.8,169.7 L364.8,202.8" fill="none" stroke="#b4b4e6" stroke-width="0.55"/>

</g>
<text x="207.9" y="43.7" font-size="6.55" fill="#fff">29-Aug-2017 09:12:54</text>
<line x1="364.5" y1="55.6" x2="384" y2="52.1" stroke="#fff" stroke-width="0.9"/>
<polygon points="389,51.2 381.5,49 382.7,55.6" fill="#fff"/>
<line x1="204.3" y1="202.8" x2="206" y2="202.8" stroke="#555" stroke-width="0.4"/>
<text x="201.9" y="202.8" font-size="6.5" text-anchor="end" fill="#222">0</text>
<line x1="204.3" y1="159.2" x2="206" y2="159.2" stroke="#555" stroke-width="0.4"/>
<text x="201.9" y="161.6" font-size="6.5" text-anchor="end" fill="#222">50</text>
<line x1="204.3" y1="115.7" x2="206" y2="115.7" stroke="#555" stroke-width="0.4"/>
<text x="201.9" y="118.0" font-size="6.5" text-anchor="end" fill="#222">100</text>
<line x1="204.3" y1="72.1" x2="206" y2="72.1" stroke="#555" stroke-width="0.4"/>
<text x="201.9" y="74.4" font-size="6.5" text-anchor="end" fill="#222">150</text>
<line x1="206.0" y1="202.8" x2="206.0" y2="204.6" stroke="#555" stroke-width="0.4"/>
<text x="206.0" y="217.3" font-size="6.5" text-anchor="middle" fill="#222">0</text>
<line x1="249.6" y1="202.8" x2="249.6" y2="204.6" stroke="#555" stroke-width="0.4"/>
<text x="249.6" y="217.3" font-size="6.5" text-anchor="middle" fill="#222">50</text>
<line x1="293.1" y1="202.8" x2="293.1" y2="204.6" stroke="#555" stroke-width="0.4"/>
<text x="293.1" y="217.3" font-size="6.5" text-anchor="middle" fill="#222">100</text>
<line x1="336.7" y1="202.8" x2="336.7" y2="204.6" stroke="#555" stroke-width="0.4"/>
<text x="336.7" y="217.3" font-size="6.5" text-anchor="middle" fill="#222">150</text>
<line x1="380.3" y1="202.8" x2="380.3" y2="204.6" stroke="#555" stroke-width="0.4"/>
<text x="380.3" y="217.3" font-size="6.5" text-anchor="middle" fill="#222">200</text>
<text x="301" y="227.6" font-size="6.5" text-anchor="middle" fill="#222">X (arcsec)</text>
<text transform="translate(183.5,119.7) rotate(-90)" font-size="6.5" text-anchor="middle" fill="#222">Y (arcsec)</text>
</g>
<line x1="62.8" y1="245.4" x2="203" y2="202.1" stroke="#666" stroke-width="0.45"/>
<line x1="206" y1="201.2" x2="307.9" y2="169.7" stroke="#000050" stroke-width="0.5" opacity="0.28"/>
<line x1="255.8" y1="246.4" x2="344.5" y2="183.4" stroke="#555" stroke-width="0.45"/>
<g id="panelC">
<text x="44" y="231" font-size="9" font-weight="bold" fill="#111">C</text>
<text x="67.6" y="230" font-size="4" fill="#2a2ab4">SDO/AIA 304 Å</text>
<text x="67.6" y="236" font-size="4" fill="#a8e890">SST/CRISP Hα + 0.80 Å (+ 36.54 km/s)</text>
<text x="67.6" y="242" font-size="4" fill="#e62c2c">SST/CHROMIS Ca II K + 0.45 Å (+ 34.64 km/s)</text>
<g clip-path="url(#clipC)">
<rect x="62" y="246" width="195" height="103" fill="#000090"/>
<!-- upper navy streaks -->
<g filter="url(#b2)">
<path d="M62,247 L78,247 L122,284 L96,288 Z" fill="#0a0acc" opacity="0.4"/>
<path d="M88,247 L112,247 L138,284 L120,288 Z" fill="#000058" opacity="0.55"/>
<path d="M120,284 L142,247 L153,247 L136,286 Z" fill="#0c0cd0" opacity="0.5"/>
<path d="M62,262 L62,290 L86,290 Z" fill="#0808c0" opacity="0.5"/>
<ellipse cx="152" cy="277" rx="22" ry="8" fill="#0808c0" opacity="0.35"/>
<path d="M160,247 L172,247 L186,270 L176,274 Z" fill="#0a0ac0" opacity="0.45"/>
<rect x="224" y="250" width="4" height="36" fill="#1a0ab8" opacity="0.5"/>
<rect x="237" y="250" width="4" height="36" fill="#1408b0" opacity="0.45"/>
<rect x="172" y="268" width="84" height="18" fill="#0606b4" opacity="0.45"/>
</g>
<ellipse cx="193" cy="256" rx="20" ry="9" fill="#000038" opacity="0.85" filter="url(#b3)"/>
<rect x="62" y="294" width="10" height="28" fill="#000050" opacity="0.75" filter="url(#b3)"/>
<rect x="62" y="322" width="10" height="28" fill="#0404a8" opacity="0.6" filter="url(#b2)"/>
<!-- inner CRISP box -->
<g clip-path="url(#clipCi)">
<rect x="71" y="286" width="147" height="63" fill="url(#gCi)"/>
<!-- vertical light streaks top -->
<g filter="url(#b1)" opacity="0.5">
<rect x="128" y="286" width="3" height="18" fill="#48a8c8"/><rect x="138" y="286" width="4" height="16" fill="#48a8c8"/><rect x="150" y="286" width="3" height="20" fill="#48a8c8"/><rect x="162" y="286" width="4" height="14" fill="#3c98c0"/>
</g>
<!-- darker teal mid -->
<ellipse cx="165" cy="312" rx="34" ry="11" fill="#105092" opacity="0.75" filter="url(#b5)"/>
<ellipse cx="119" cy="301" rx="12" ry="10" fill="#1c5c96" opacity="0.6" filter="url(#b3)"/>
<!-- right dark teal-green -->
<rect x="190" y="284" width="30" height="44" fill="#0c5c6a" opacity="0.9" filter="url(#b3)"/>
<!-- left column teal to green -->
<path d="M71,312 L84,305 L84,349 L71,349 Z" fill="#70dca0" filter="url(#b2)"/>
<!-- streak -->
<path d="M172.5,286 L174.5,286 L187.4,325 L185.8,325 Z" fill="#5cc4e2" opacity="0.55" filter="url(#b05)"/>
<path d="M150,286 L158,286 L178,326 L172,326 Z" fill="#2c8cb8" opacity="0.45" filter="url(#b1)"/>
<!-- green fringe -->
<path d="M71,349 L71,319 L79,316 L84,300 L85.5,286 L105.5,286 L108.5,297 L108,308 L104,314 L108,315 L114,313 L120.3,309.5 L124,312 L127.3,315.5 L132,311.5 L138.3,309.3 L144,311 L150,316 L155,329 L158.4,337 L162,331.5 L166,328 L174,327.4 L182,327.6 L188,325 L192,322.5 L196,325 L217,330 L217,349 Z" fill="#48e496" filter="url(#b1)"/>
<!-- yellow plume -->
<path d="M71,349 L72,322 L78.5,319 L86,300 L87.5,286 L98.5,286 L101,292 L103.8,300 L103.2,308 L100,317 L100,349 Z" fill="#ffff86" filter="url(#b1)"/>
<path d="M80,349 L84,322 L92,300 L94,288 L98,288 L100,300 L98,312 L94,322 L94,349 Z" fill="#ffffb8" opacity="0.85" filter="url(#b1)"/>
<!-- white blob -->
<path d="M82,349 L84,332 L92,324 L99,320.5 L108,319 L114,317.5 L120.3,314 L124,316 L127.3,319.5 L132,316 L138.3,314.2 L144,315.5 L149,320 L153,331 L156.5,340 L160.5,337 L164,332.5 L168,331 L176,330.6 L183,330.4 L188,328.5 L192,326.5 L196,330 L200,335 L217,338 L217,349 Z" fill="#ffffee" filter="url(#b1)"/>
<ellipse cx="124" cy="333" rx="26" ry="9.5" fill="#fff" filter="url(#b2)"/>
<path d="M160,336.5 L164,331 L168,329.3 L176,328.8 L183,328.8 L188,326.8 L192,324.3" fill="none" stroke="#90fff0" stroke-width="1.8" opacity="0.8" filter="url(#b05)"/>
<ellipse cx="176" cy="336" rx="12" ry="4" fill="#fff" filter="url(#b1)"/>
<!-- green spikes -->
<path d="M191.8,349 L192.3,302 L193.3,302 L194.3,349 Z" fill="#48d880" opacity="0.8" filter="url(#b05)"/>
<path d="M195.5,349 L197.5,326 L199.5,318.5 L201.5,326 L203.5,349 Z" fill="#58f078" filter="url(#b05)"/>
<rect x="205" y="286" width="1.2" height="63" fill="#38d080" opacity="0.7" filter="url(#b05)"/>
<rect x="209.2" y="286" width="4.8" height="63" fill="#40ff84" filter="url(#b05)"/>
<path d="M203,349 L206,326 L216,322 L217,349 Z" fill="#50f080" opacity="0.8" filter="url(#b1)"/>
<!-- bottom yellow band -->
<path d="M66,354 L66,343.5 L100,343 L150,342 L190,339.5 L203,335.5 L222,333.5 L222,354 Z" fill="#ffff50" filter="url(#b1)"/>
<rect x="71" y="346.6" width="125" height="4" fill="#ffffd0" opacity="0.85" filter="url(#b05)"/>
</g>
<!-- right CHROMIS region -->
<g clip-path="url(#clipCr)">
<rect x="217" y="286" width="40" height="63" fill="url(#gCr)"/>
<rect x="222" y="290" width="2.5" height="50" fill="#7c24d0" opacity="0.55" filter="url(#b1)"/>
<rect x="232" y="290" width="2.5" height="50" fill="#6a20c8" opacity="0.5" filter="url(#b1)"/>
<rect x="241" y="295" width="2.5" height="45" fill="#3c10b4" opacity="0.5" filter="url(#b1)"/>
<ellipse cx="227" cy="346" rx="14" ry="7" fill="#ff0040" filter="url(#b2)"/>
<ellipse cx="221.5" cy="331.5" rx="4.5" ry="8" fill="#ff28c8" filter="url(#b2)"/>
<ellipse cx="245" cy="347" rx="7" ry="3" fill="#900060" opacity="0.8" filter="url(#b2)"/>
</g>
<!-- pink line, red line -->
<line x1="71.3" y1="286.3" x2="217" y2="286.3" stroke="#a02868" stroke-width="0.6" opacity="0.4"/>
<line x1="217" y1="286.4" x2="247.8" y2="286.4" stroke="#ff3c8c" stroke-width="0.8"/>
<line x1="71.9" y1="286.5" x2="71.9" y2="324" stroke="#ff4878" stroke-width="0.8"/>
<!-- pink marker -->
<rect x="180.9" y="295.7" width="3.2" height="3.2" fill="#ff46a0"/>
<!-- circles rows -->
<g fill="none" stroke="#e0e0ff" stroke-width="0.3" opacity="0.75">
<circle cx="203.0" cy="296.9" r="0.9"/><circle cx="205.7" cy="297.0" r="0.9"/><circle cx="208.4" cy="297.2" r="0.9"/><circle cx="211.2" cy="297.3" r="0.9"/><circle cx="213.9" cy="297.5" r="0.9"/><circle cx="216.6" cy="297.6" r="0.9"/><circle cx="219.3" cy="297.7" r="0.9"/><circle cx="222.0" cy="297.9" r="0.9"/><circle cx="224.8" cy="298.0" r="0.9"/><circle cx="227.5" cy="298.2" r="0.9"/><circle cx="230.2" cy="298.3" r="0.9"/><circle cx="232.9" cy="298.4" r="0.9"/><circle cx="235.6" cy="298.6" r="0.9"/><circle cx="238.4" cy="298.7" r="0.9"/><circle cx="241.1" cy="298.9" r="0.9"/><circle cx="243.8" cy="299.0" r="0.9"/><circle cx="204.8" cy="309.9" r="0.9"/><circle cx="207.5" cy="310.1" r="0.9"/><circle cx="210.1" cy="310.2" r="0.9"/><circle cx="212.8" cy="310.4" r="0.9"/><circle cx="215.4" cy="310.6" r="0.9"/><circle cx="218.1" cy="310.8" r="0.9"/><circle cx="220.7" cy="310.9" r="0.9"/><circle cx="223.4" cy="311.1" r="0.9"/><circle cx="226.1" cy="311.3" r="0.9"/><circle cx="228.7" cy="311.4" r="0.9"/><circle cx="231.4" cy="311.6" r="0.9"/><circle cx="234.0" cy="311.8" r="0.9"/><circle cx="236.7" cy="312.0" r="0.9"/><circle cx="239.3" cy="312.1" r="0.9"/><circle cx="242.0" cy="312.3" r="0.9"/></g>
<g font-size="3" fill="#e8e8ff" opacity="0.85" text-anchor="middle"><text x="203" y="295">2</text><text x="217.4" y="294.2">4</text><text x="225" y="293.4">6</text><text x="205" y="308">1</text><text x="217.5" y="307.3">3</text><text x="225.5" y="306.6">5</text></g>

</g>
<text x="67.6" y="251.5" font-size="3.95" fill="#fff">29-Aug-2017 09:11:08</text>
<text x="57.6" y="336.2" font-size="3.4" text-anchor="end" fill="#3a3a3a">20</text>
<line x1="61.6" y1="335.0" x2="62.6" y2="335.0" stroke="#888" stroke-width="0.3"/>
<text x="57.6" y="309.3" font-size="3.4" text-anchor="end" fill="#3a3a3a">30</text>
<line x1="61.6" y1="308.1" x2="62.6" y2="308.1" stroke="#888" stroke-width="0.3"/>
<text x="57.6" y="282.5" font-size="3.4" text-anchor="end" fill="#3a3a3a">40</text>
<line x1="61.6" y1="281.3" x2="62.6" y2="281.3" stroke="#888" stroke-width="0.3"/>
<text x="57.6" y="255.6" font-size="3.4" text-anchor="end" fill="#3a3a3a">50</text>
<line x1="61.6" y1="254.4" x2="62.6" y2="254.4" stroke="#888" stroke-width="0.3"/>
<text x="81.8" y="358.5" font-size="3.5" text-anchor="middle" fill="#2a2a2a">120</text>
<line x1="81.8" y1="348.6" x2="81.8" y2="349.6" stroke="#888" stroke-width="0.3"/>
<text x="136.1" y="358.5" font-size="3.5" text-anchor="middle" fill="#2a2a2a">140</text>
<line x1="136.1" y1="348.6" x2="136.1" y2="349.6" stroke="#888" stroke-width="0.3"/>
<text x="190.4" y="358.5" font-size="3.5" text-anchor="middle" fill="#2a2a2a">160</text>
<line x1="190.4" y1="348.6" x2="190.4" y2="349.6" stroke="#888" stroke-width="0.3"/>
<text x="244.7" y="358.5" font-size="3.5" text-anchor="middle" fill="#2a2a2a">180</text>
<line x1="244.7" y1="348.6" x2="244.7" y2="349.6" stroke="#888" stroke-width="0.3"/>
<text x="158.8" y="365" font-size="3.8" text-anchor="middle" fill="#2a2a2a">X (arcsec)</text>
<text transform="translate(49,297.9) rotate(-90)" font-size="3.75" text-anchor="middle" fill="#3a3a3a">Y (arcsec)</text>
</g>
</svg></body></html>
